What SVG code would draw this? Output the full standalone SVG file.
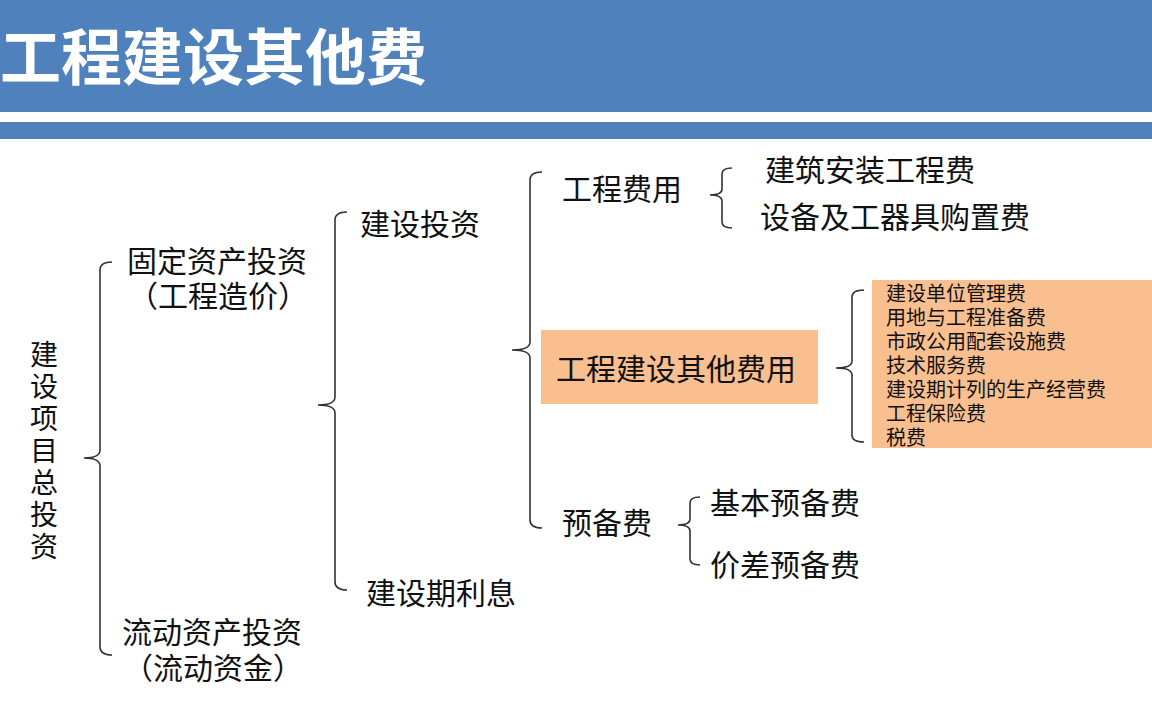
<svg xmlns="http://www.w3.org/2000/svg" width="1152" height="720" viewBox="0 0 1152 720">
<style>
text{font-family:"Noto Sans CJK SC","Noto Sans",sans-serif;fill:#111}
.t{font-size:30px}
.v{font-size:28px}
.s{font-size:20px}
.b{fill:none;stroke:#333;stroke-width:1.6}
</style>
<rect width="1152" height="720" fill="#fff"/>
<rect x="0" y="0" width="1152" height="112" fill="#4f81bd"/>
<rect x="0" y="122" width="1152" height="17" fill="#4f81bd"/>
<text x="0" y="80" style="font-size:61px;font-weight:bold;fill:#fff">工程建设其他费</text>
<g id="connectors">
<path class="b" d="M112,262 Q100,262 100,270 L100,450 Q100,458 84,458 Q100,458 100,466 L100,647 Q100,655 112,655"/>
<path class="b" d="M347,212 Q335,212 335,220 L335,397 Q335,405 318,405 Q335,405 335,413 L335,582 Q335,590 347,590"/>
<path class="b" d="M542,172 Q530,172 530,180 L530,342 Q530,350 512,350 Q530,350 530,358 L530,520 Q530,528 542,528"/>
<path class="b" d="M732,168 Q722,168 722,174 L722,189 Q722,195 710,195 Q722,195 722,201 L722,222 Q722,228 732,228"/>
<path class="b" d="M700,497 Q690,497 690,503 L690,519 Q690,525 678,525 Q690,525 690,531 L690,559 Q690,565 700,565"/>
<path class="b" d="M864,290 Q852,290 852,297 L852,361 Q852,368 836,368 Q852,368 852,375 L852,435 Q852,442 864,442"/>
</g>
<g id="root"><text class="v" x="30" y="365">建</text><text class="v" x="30" y="397">设</text><text class="v" x="30" y="429">项</text><text class="v" x="30" y="461">目</text><text class="v" x="30" y="493">总</text><text class="v" x="30" y="525">投</text><text class="v" x="30" y="557">资</text></g>
<g id="fixed"><text class="t" x="127" y="272">固定资产投资</text><text class="t" x="218" y="307" text-anchor="middle">（工程造价）</text></g>
<g id="current"><text class="t" x="122" y="643">流动资产投资</text><text class="t" x="213" y="679" text-anchor="middle">（流动资金）</text></g>
<g id="jstz"><text class="t" x="360" y="235">建设投资</text></g>
<g id="lixi"><text class="t" x="366" y="604">建设期利息</text></g>
<g id="gcfy"><text class="t" x="562" y="200">工程费用</text></g>
<g id="jazf"><text class="t" x="765" y="181">建筑安装工程费</text></g>
<g id="sbf"><text class="t" x="760" y="228">设备及工器具购置费</text></g>
<g id="other"><rect x="541" y="330" width="277" height="74" fill="#f9bf8f"/><text x="556" y="380" style="font-size:30px">工程建设其他费用</text></g>
<g id="items"><rect x="872" y="280" width="280" height="168" fill="#f9bf8f"/>
<text class="s" x="886" y="301">建设单位管理费</text>
<text class="s" x="886" y="325">用地与工程准备费</text>
<text class="s" x="886" y="349">市政公用配套设施费</text>
<text class="s" x="886" y="373">技术服务费</text>
<text class="s" x="886" y="397">建设期计列的生产经营费</text>
<text class="s" x="886" y="421">工程保险费</text>
<text class="s" x="886" y="445">税费</text></g>
<g id="ybf"><text class="t" x="562" y="534">预备费</text></g>
<g id="jbyb"><text class="t" x="710" y="514">基本预备费</text></g>
<g id="jcyb"><text class="t" x="710" y="576">价差预备费</text></g>
</svg>
